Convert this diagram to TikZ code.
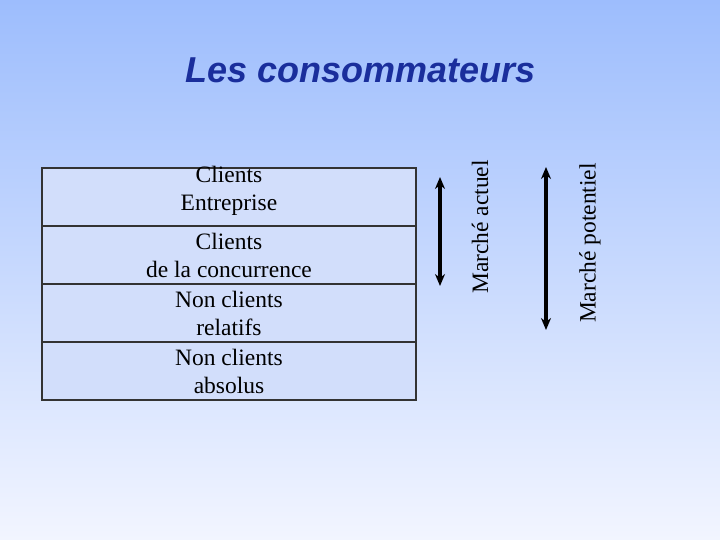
\documentclass[tikz,border=0pt]{standalone}
\usepackage{fontspec}
\setmainfont{Liberation Serif}
\setsansfont{Liberation Sans}
\usetikzlibrary{arrows.meta}
\definecolor{bgtop}{HTML}{9DBDFD}
\definecolor{bgbot}{HTML}{F2F5FF}
\definecolor{cellfill}{HTML}{D2DEFB}
\definecolor{titleblue}{HTML}{1A2E9C}
\tikzset{
  cell/.style={draw=black!80, line width=1.6pt, fill=cellfill, minimum width=374pt, minimum height=58pt, inner sep=0pt, align=center, font=\fontsize{23.5}{28}\selectfont},
  dbl/.style={{Stealth[length=12pt,width=10pt]}-{Stealth[length=12pt,width=10pt]}, line width=3.2pt},
  vlab/.style={rotate=90, font=\fontsize{23.5}{28}\selectfont, inner sep=0pt}
}
\begin{document}
\begin{tikzpicture}[x=1pt,y=-1pt]
\shade[top color=bgtop, bottom color=bgbot] (0,0) rectangle (720,540);
\useasboundingbox (0,0) rectangle (720,540);
\node[font=\sffamily\bfseries\itshape\fontsize{36}{40}\selectfont, text=titleblue] (title) at (361,70) {Les consommateurs};
\node[cell] (r1) at (229,197) {\\[-24pt]Clients\\Entreprise};
\node[cell] (r2) at (229,255) {Clients\\de la concurrence};
\node[cell] (r3) at (229,313) {Non clients\\relatifs};
\node[cell] (r4) at (229,371) {Non clients\\absolus};
\coordinate (a1t) at (440,177);
\coordinate (a1b) at (440,286);
\draw[dbl] (a1t) -- (a1b);
\node[vlab] (l1) at (480,227) {Marché actuel};
\coordinate (a2t) at (546,167);
\coordinate (a2b) at (546,330);
\draw[dbl] (a2t) -- (a2b);
\node[vlab] (l2) at (590,243) {Marché potentiel};
\end{tikzpicture}
\end{document}
